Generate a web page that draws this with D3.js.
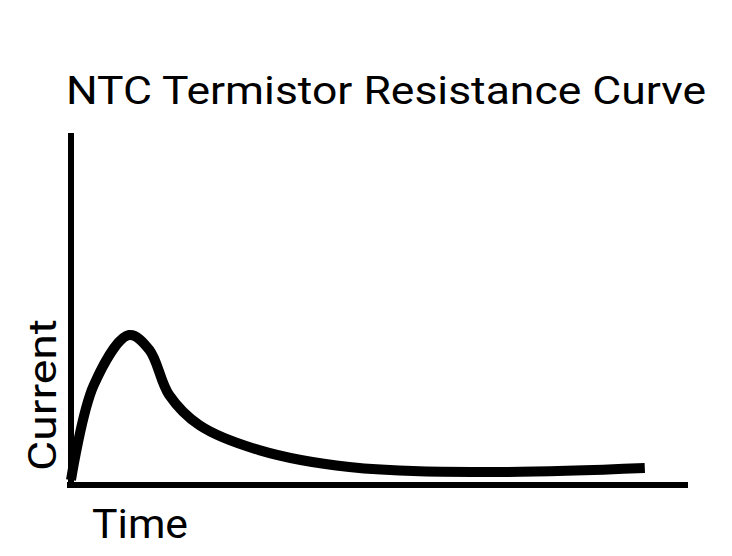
<!DOCTYPE html>
<html><head><meta charset="utf-8">
<script src="https://cdn.jsdelivr.net/npm/d3@7"></script>
<style>body{margin:0;background:#fff}</style></head>
<body><svg id="c" width="732" height="556"></svg>
<script>
const title = "NTC Termistor Resistance Curve";
const xLabel = "Time";
const yLabel = "Current";
const time = [0, 3.7, 9.4, 12.7, 15.9, 20.8, 30.5, 45.1, 69.5, 93];
const current = [1.4, 28.4, 42.6, 38.4, 25.6, 17, 9.9, 5.1, 3.7, 4.8];

const svg = d3.select("#c");
const x = d3.scaleLinear().domain([0, 100]).range([71, 688]);
const y = d3.scaleLinear().domain([0, 100]).range([485, 133]);

svg.append("text").attr("x", 66).attr("y", 104).attr("font-family", "Roboto")
  .attr("font-size", 38).attr("textLength", 640).attr("lengthAdjust", "spacingAndGlyphs").text(title);

svg.append("line").attr("x1", x(0)).attr("x2", x(0)).attr("y1", y(100)).attr("y2", y(0) + 2)
  .attr("stroke", "#000").attr("stroke-width", 6);
svg.append("line").attr("x1", x(0) - 4).attr("x2", x(100)).attr("y1", y(0)).attr("y2", y(0))
  .attr("stroke", "#000").attr("stroke-width", 6);

const pts = time.map((t, i) => [t, current[i]]);
svg.append("path").datum(pts)
  .attr("d", d3.line().x(d => x(d[0])).y(d => y(d[1])).curve(d3.curveCatmullRom.alpha(0.5)))
  .attr("fill", "none").attr("stroke", "#000").attr("stroke-width", 10).attr("stroke-linecap", "butt");

svg.append("text").attr("x", 92).attr("y", 538).attr("font-family", "Roboto")
  .attr("font-size", 40).attr("textLength", 96).attr("lengthAdjust", "spacingAndGlyphs").text(xLabel);
svg.append("text").attr("transform", "translate(56,471) rotate(-90)").attr("font-family", "Roboto")
  .attr("font-size", 38).attr("textLength", 152).attr("lengthAdjust", "spacingAndGlyphs").text(yLabel);
</script></body></html>
